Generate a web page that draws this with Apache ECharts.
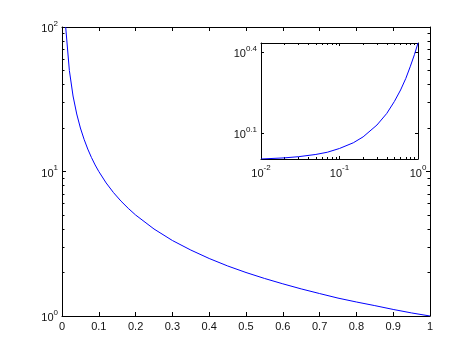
<!DOCTYPE html>
<html><head><meta charset="utf-8">
<script src="https://cdn.jsdelivr.net/npm/echarts@6/dist/echarts.min.js"></script>
<style>html,body{margin:0;padding:0;background:#fff}#c{width:474px;height:355px}</style>
</head><body><div id="c"></div>
<script>
// Main plot data (x linear, y log)
var mainX = [0.01,0.02,0.03,0.04,0.05,0.06,0.07,0.08,0.09,0.10,0.12,0.14,0.16,0.18,0.20,0.25,0.30,0.35,0.40,0.45,0.50,0.55,0.60,0.65,0.70,0.75,0.80,0.85,0.90,0.95,1.00];
var mainY = [100,50,33.3,25,20,16.7,14.3,12.5,11.1,10,8.33,7.14,6.25,5.56,5.0,4.0,3.33,2.86,2.5,2.22,2.0,1.82,1.67,1.54,1.43,1.33,1.25,1.18,1.11,1.05,1.0];
// Inset data (x log, y log)
var insetX = [0.01,0.02,0.03,0.05,0.07,0.10,0.15,0.20,0.30,0.40,0.50,0.60,0.70,0.80,0.90,1.00];
var insetY = [1.01,1.02,1.03,1.05,1.07,1.105,1.16,1.22,1.35,1.49,1.65,1.82,2.01,2.23,2.46,2.718];
// Tick values
var mainXTicks = [0,0.1,0.2,0.3,0.4,0.5,0.6,0.7,0.8,0.9,1];
var mainYMajor = [1,10,100];
var mainYMinor = [2,3,4,5,6,7,8,9,20,30,40,50,60,70,80,90];
var insetXMajor = [0.01,0.1,1];
var insetXMinor = [0.02,0.03,0.04,0.05,0.06,0.07,0.08,0.09,0.2,0.3,0.4,0.5,0.6,0.7,0.8,0.9];
var insetYMajor = [1.2589254,2.5118864];

var FONT = 'Liberation Sans';
var TXT = '#111';
var rich = {
  b:{fontFamily:FONT,fontSize:11,color:TXT,lineHeight:15,verticalAlign:'bottom'},
  s:{fontFamily:FONT,fontSize:8,color:TXT,lineHeight:8,verticalAlign:'top'}
};
function powLabel(v){
  var e = Math.log10(v);
  var r = Math.round(e*10)/10;
  var t = (Math.abs(r-Math.round(r))<1e-6) ? String(Math.round(r)) : r.toFixed(1);
  return '{b|10}{s|'+t+'}';
}
var line = {show:true,onZero:false,lineStyle:{color:'#000',width:1}};
var noLine = {show:false,onZero:false};

var xAxes = [], yAxes = [];
// ---- main grid 0 ----
xAxes.push({type:'value',gridIndex:0,position:'bottom',min:0,max:1,interval:0.1,
  axisLine:line,splitLine:{show:false},
  axisTick:{inside:true,length:4,lineStyle:{color:'#000'},customValues:mainXTicks},
  axisLabel:{customValues:mainXTicks,margin:5,fontFamily:FONT,fontSize:11,color:TXT,formatter:function(v){return String(+(+v).toFixed(1));}}});
xAxes.push({type:'value',gridIndex:0,position:'top',min:0,max:1,interval:0.1,
  axisLine:line,splitLine:{show:false},
  axisTick:{inside:true,length:4,lineStyle:{color:'#000'},customValues:mainXTicks},
  axisLabel:{show:false}});
yAxes.push({type:'log',logBase:10,gridIndex:0,position:'left',min:1,max:100,
  axisLine:line,splitLine:{show:false},
  axisTick:{inside:true,length:4,lineStyle:{color:'#000'},customValues:mainYMajor},
  axisLabel:{customValues:mainYMajor,margin:4,formatter:powLabel,rich:rich}});
yAxes.push({type:'log',logBase:10,gridIndex:0,position:'right',min:1,max:100,
  axisLine:line,splitLine:{show:false},
  axisTick:{inside:true,length:4,lineStyle:{color:'#000'},customValues:mainYMajor},
  axisLabel:{show:false}});
yAxes.push({type:'log',logBase:10,gridIndex:0,position:'left',min:1,max:100,
  axisLine:noLine,splitLine:{show:false},
  axisTick:{inside:true,length:2.5,lineStyle:{color:'#000'},customValues:mainYMinor},
  axisLabel:{show:false}});
yAxes.push({type:'log',logBase:10,gridIndex:0,position:'right',min:1,max:100,
  axisLine:noLine,splitLine:{show:false},
  axisTick:{inside:true,length:2.5,lineStyle:{color:'#000'},customValues:mainYMinor},
  axisLabel:{show:false}});
// ---- inset grid 1 ----
xAxes.push({type:'log',logBase:10,gridIndex:1,position:'bottom',min:0.01,max:1,
  axisLine:line,splitLine:{show:false},
  axisTick:{inside:true,length:3,lineStyle:{color:'#000'},customValues:insetXMajor},
  axisLabel:{customValues:insetXMajor,margin:5,formatter:powLabel,rich:rich}});
xAxes.push({type:'log',logBase:10,gridIndex:1,position:'top',min:0.01,max:1,
  axisLine:line,splitLine:{show:false},
  axisTick:{inside:true,length:3,lineStyle:{color:'#000'},customValues:insetXMajor},
  axisLabel:{show:false}});
xAxes.push({type:'log',logBase:10,gridIndex:1,position:'bottom',min:0.01,max:1,
  axisLine:noLine,splitLine:{show:false},
  axisTick:{inside:true,length:2,lineStyle:{color:'#000'},customValues:insetXMinor},
  axisLabel:{show:false}});
xAxes.push({type:'log',logBase:10,gridIndex:1,position:'top',min:0.01,max:1,
  axisLine:noLine,splitLine:{show:false},
  axisTick:{inside:true,length:2,lineStyle:{color:'#000'},customValues:insetXMinor},
  axisLabel:{show:false}});
yAxes.push({type:'log',logBase:10,gridIndex:1,position:'left',min:1.01,max:2.718,
  axisLine:line,splitLine:{show:false},
  axisTick:{inside:true,length:3,lineStyle:{color:'#000'},customValues:insetYMajor},
  axisLabel:{customValues:insetYMajor,margin:4,formatter:powLabel,rich:rich}});
yAxes.push({type:'log',logBase:10,gridIndex:1,position:'right',min:1.01,max:2.718,
  axisLine:line,splitLine:{show:false},
  axisTick:{inside:true,length:3,lineStyle:{color:'#000'},customValues:insetYMajor},
  axisLabel:{show:false}});

var chart = echarts.init(document.getElementById('c'),null,{renderer:'canvas'});
chart.setOption({
  animation:false,
  backgroundColor:'#fff',
  grid:[
    {left:62,top:27,width:368,height:289,show:false},
    {left:261,top:43,width:157,height:116,show:false}
  ],
  xAxis:xAxes,
  yAxis:yAxes,
  series:[
    {type:'line',xAxisIndex:0,yAxisIndex:0,showSymbol:false,lineStyle:{color:'#0000ff',width:1},
      data:mainX.map(function(x,i){return [x,mainY[i]];})},
    {type:'line',xAxisIndex:2,yAxisIndex:4,showSymbol:false,lineStyle:{color:'#0000ff',width:1},
      data:insetX.map(function(x,i){return [x,insetY[i]];})}
  ]
});
</script></body></html>
